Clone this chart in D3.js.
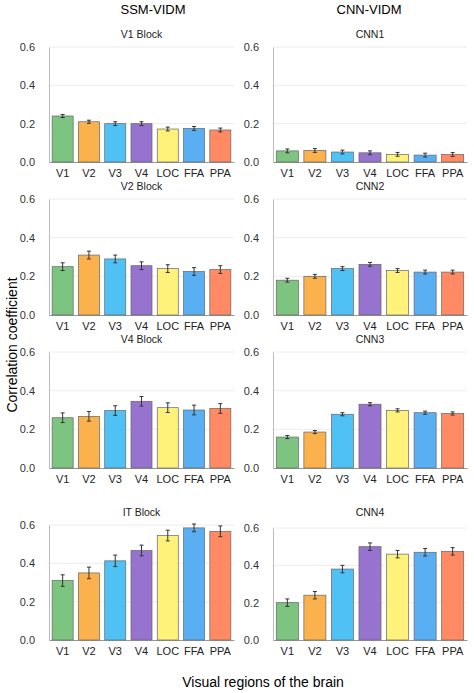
<!DOCTYPE html><html><head><script src="https://cdn.jsdelivr.net/npm/d3@7"></script>
<style>body{margin:0;background:#fff}text{font-family:Arial,"Liberation Sans",sans-serif}</style></head><body><svg id="c" width="474" height="693"></svg>
<script>
const regions=["V1","V2","V3","V4","LOC","FFA","PPA"];
const colors=["#7cc47f","#fcb24c","#4fc1f5","#9673cf","#fff27a","#5aaef2","#ff8a63"];
const yTicks=[0,0.2,0.4,0.6];
const titles=["V1 Block","CNN1","V2 Block","CNN2","V4 Block","CNN3","IT Block","CNN4"];
const v1Block=[.24,.21,.20,.20,.172,.175,.167], v1Err=[.008,.008,.01,.01,.01,.01,.01];
const cnn1=[.058,.06,.052,.048,.04,.036,.039], cnn1Err=[.01,.01,.01,.01,.01,.01,.01];
const v2Block=[.25,.31,.29,.255,.24,.225,.235], v2Err=[.02,.02,.02,.02,.02,.02,.02];
const cnn2=[.18,.20,.24,.262,.23,.222,.222], cnn2Err=[.01,.01,.01,.01,.01,.01,.01];
const v4Block=[.26,.267,.297,.345,.312,.30,.308], v4Err=[.025,.025,.025,.025,.025,.025,.025];
const cnn3=[.16,.186,.278,.33,.298,.286,.282], cnn3Err=[.008,.008,.008,.008,.008,.008,.008];
const itBlock=[.31,.35,.413,.467,.545,.585,.567], itErr=[.03,.03,.03,.028,.028,.02,.028];
const cnn4=[.20,.24,.38,.50,.46,.47,.475], cnn4Err=[.02,.02,.02,.02,.02,.02,.02];
const series=[[v1Block,v1Err],[cnn1,cnn1Err],[v2Block,v2Err],[cnn2,cnn2Err],[v4Block,v4Err],[cnn3,cnn3Err],[itBlock,itErr],[cnn4,cnn4Err]];
const svg=d3.select("#c");
const tops=[47,199,352,525], bots=[162,315,468,640];
series.forEach((s,i)=>{
  const row=Math.floor(i/2), col=i%2;
  const x0=col?273:49, x1=col?467:234;
  const yT=tops[row]+(col&&row==3?3:0), yB=bots[row];
  const x=d3.scaleBand().domain(regions).range([x0,x1]).paddingInner(0.2).paddingOuter(0.12);
  const y=d3.scaleLinear().domain([0,0.6]).range([yB,yT]);
  const g=svg.append("g");
  g.selectAll(".grid").data(yTicks.slice(1)).join("line").attr("x1",x0).attr("x2",x1)
   .attr("y1",d=>y(d)).attr("y2",d=>y(d)).attr("stroke","#ececec");
  const ay=g.append("g").attr("transform",`translate(${x0},0)`).call(d3.axisLeft(y).tickValues(yTicks).tickFormat(d3.format(".1f")).tickSize(0).tickPadding(14));
  ay.select(".domain").attr("stroke","#bbb");
  ay.selectAll("text").attr("font-size",11).attr("fill","#333");
  const ax=g.append("g").attr("transform",`translate(0,${yB})`).call(d3.axisBottom(x).tickSize(0).tickPadding(7));
  ax.select(".domain").attr("stroke","#999");
  ax.selectAll("text").attr("font-size",11).attr("fill","#222");
  g.selectAll("rect").data(s[0]).join("rect").attr("x",(d,j)=>x(regions[j])).attr("width",x.bandwidth())
   .attr("y",d=>y(d)).attr("height",d=>yB-y(d)).attr("fill",(d,j)=>colors[j]).attr("stroke","#666").attr("stroke-width",0.7);
  s[0].forEach((d,j)=>{
    const cx=x(regions[j])+x.bandwidth()/2, e=s[1][j];
    g.append("line").attr("x1",cx).attr("x2",cx).attr("y1",y(d-e)).attr("y2",y(d+e)).attr("stroke","#333");
    [d-e,d+e].forEach(v=>g.append("line").attr("x1",cx-2).attr("x2",cx+2).attr("y1",y(v)).attr("y2",y(v)).attr("stroke","#333"));
  });
  g.append("text").attr("x",(x0+x1)/2).attr("y",tops[row]-9).attr("text-anchor","middle").attr("font-size",10.5).attr("fill","#222").text(titles[i]);
});
svg.append("text").attr("x",153).attr("y",14).attr("text-anchor","middle").attr("font-size",13).text("SSM-VIDM");
svg.append("text").attr("x",369).attr("y",14).attr("text-anchor","middle").attr("font-size",13).text("CNN-VIDM");
svg.append("text").attr("transform","translate(17,345) rotate(-90)").attr("text-anchor","middle").attr("font-size",14).text("Correlation coefficient");
svg.append("text").attr("x",263).attr("y",687).attr("text-anchor","middle").attr("font-size",14).text("Visual regions of the brain");
</script></body></html>
